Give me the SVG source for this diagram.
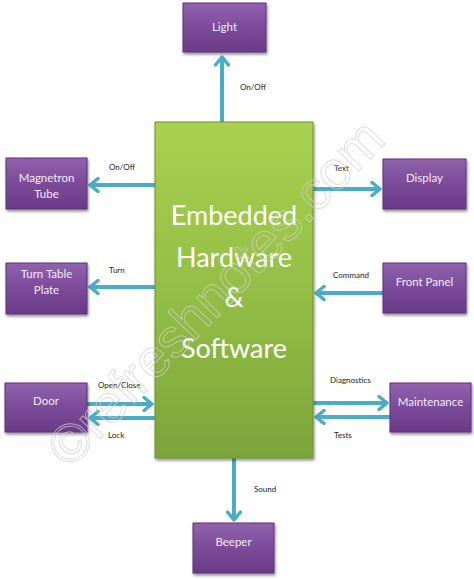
<svg xmlns="http://www.w3.org/2000/svg" width="474" height="579" viewBox="0 0 474 579">
<defs>
<linearGradient id="gp" x1="0" y1="0" x2="0" y2="1">
<stop offset="0" stop-color="#9163ad"/>
<stop offset="0.5" stop-color="#7b4b9a"/>
<stop offset="1" stop-color="#6a3b88"/>
</linearGradient>
<linearGradient id="gg" x1="0" y1="0" x2="0" y2="1">
<stop offset="0" stop-color="#a9d150"/>
<stop offset="0.5" stop-color="#94bf45"/>
<stop offset="1" stop-color="#7ba43a"/>
</linearGradient>
<filter id="sh" x="-20%" y="-20%" width="140%" height="140%">
<feGaussianBlur in="SourceAlpha" stdDeviation="1.5"/>
<feOffset dx="1" dy="2"/>
<feComponentTransfer><feFuncA type="linear" slope="0.45"/></feComponentTransfer>
<feMerge><feMergeNode/><feMergeNode in="SourceGraphic"/></feMerge>
</filter>
<marker id="ah" viewBox="0 0 12 16" refX="10" refY="8" markerWidth="12" markerHeight="16" markerUnits="userSpaceOnUse" orient="auto">
<path d="M2,1.5 L10,8 L2,14.5" fill="none" stroke="#4bacc6" stroke-width="3.5" stroke-linecap="round" stroke-linejoin="round"/>
</marker>
</defs>
<style>
.box{fill:url(#gp);stroke:#5d3378;stroke-width:1;filter:url(#sh)}
.core{fill:url(#gg);stroke:#6d9331;stroke-width:1;filter:url(#sh)}
.bt{font-family:Lato,"Open Sans",sans-serif;font-size:11.5px;fill:#f3ecf7;text-anchor:middle}
.ct{font-family:Lato,"Open Sans",sans-serif;font-size:27px;fill:#ffffff;text-anchor:middle}
.lb{font-family:Lato,"Open Sans",sans-serif;font-size:8px;fill:#222222}
.ar{fill:none;stroke:#4bacc6;stroke-width:4;marker-end:url(#ah)}
.wm{font-family:"Liberation Sans",sans-serif;font-size:54px;fill:none;stroke:#d0d0d0;stroke-width:1;opacity:0.7}
</style>
<rect width="474" height="579" fill="#ffffff"/>
<g id="connectors">
<path class="ar" d="M222,122 V57"/>
<path class="ar" d="M155,185 H90"/>
<path class="ar" d="M155,287 H90"/>
<path class="ar" d="M313,189 H380"/>
<path class="ar" d="M383,293 H316"/>
<path class="ar" d="M87,404 H152"/>
<path class="ar" d="M155,418 H90"/>
<path class="ar" d="M313,403 H387"/>
<path class="ar" d="M390,417 H316"/>
<path class="ar" d="M234,458 V520"/>
<text class="lb" x="240" y="90">On/Off</text>
<text class="lb" x="109" y="170">On/Off</text>
<text class="lb" x="109" y="273">Turn</text>
<text class="lb" x="334" y="171">Text</text>
<text class="lb" x="333" y="278">Command</text>
<text class="lb" x="98" y="388">Open/Close</text>
<text class="lb" x="108" y="438">Lock</text>
<text class="lb" x="330" y="383">Diagnostics</text>
<text class="lb" x="334" y="438">Tests</text>
<text class="lb" x="254" y="492">Sound</text>
</g>
<g id="core">
<rect class="core" x="155" y="122" width="158" height="336"/>
<text class="ct" x="234" y="225">Embedded</text>
<text class="ct" x="234" y="267">Hardware</text>
<text class="ct" x="234" y="307">&amp;</text>
<text class="ct" x="234" y="358">Software</text>
</g>
<g id="light"><rect class="box" x="183" y="3" width="83" height="49"/><text class="bt" x="224.5" y="31">Light</text></g>
<g id="magnetron"><rect class="box" x="6" y="158" width="81" height="51"/><text class="bt" x="46.5" y="182">Magnetron</text><text class="bt" x="46.5" y="198">Tube</text></g>
<g id="turntable"><rect class="box" x="6" y="263" width="81" height="51"/><text class="bt" x="46.5" y="278">Turn Table</text><text class="bt" x="46.5" y="294">Plate</text></g>
<g id="door"><rect class="box" x="5" y="383" width="82" height="49"/><text class="bt" x="46" y="405">Door</text></g>
<g id="display"><rect class="box" x="383" y="159" width="83" height="50"/><text class="bt" x="424.5" y="182">Display</text></g>
<g id="frontpanel"><rect class="box" x="383" y="263" width="83" height="50"/><text class="bt" x="424.5" y="286">Front Panel</text></g>
<g id="maintenance"><rect class="box" x="390" y="383" width="81" height="49"/><text class="bt" x="430.5" y="406">Maintenance</text></g>
<g id="beeper"><rect class="box" x="193" y="523" width="81" height="50"/><text class="bt" x="233.5" y="546">Beeper</text></g>
<text class="wm" x="70" y="470" transform="rotate(-46 70 470)">©refreshnotes.com</text>
</svg>
